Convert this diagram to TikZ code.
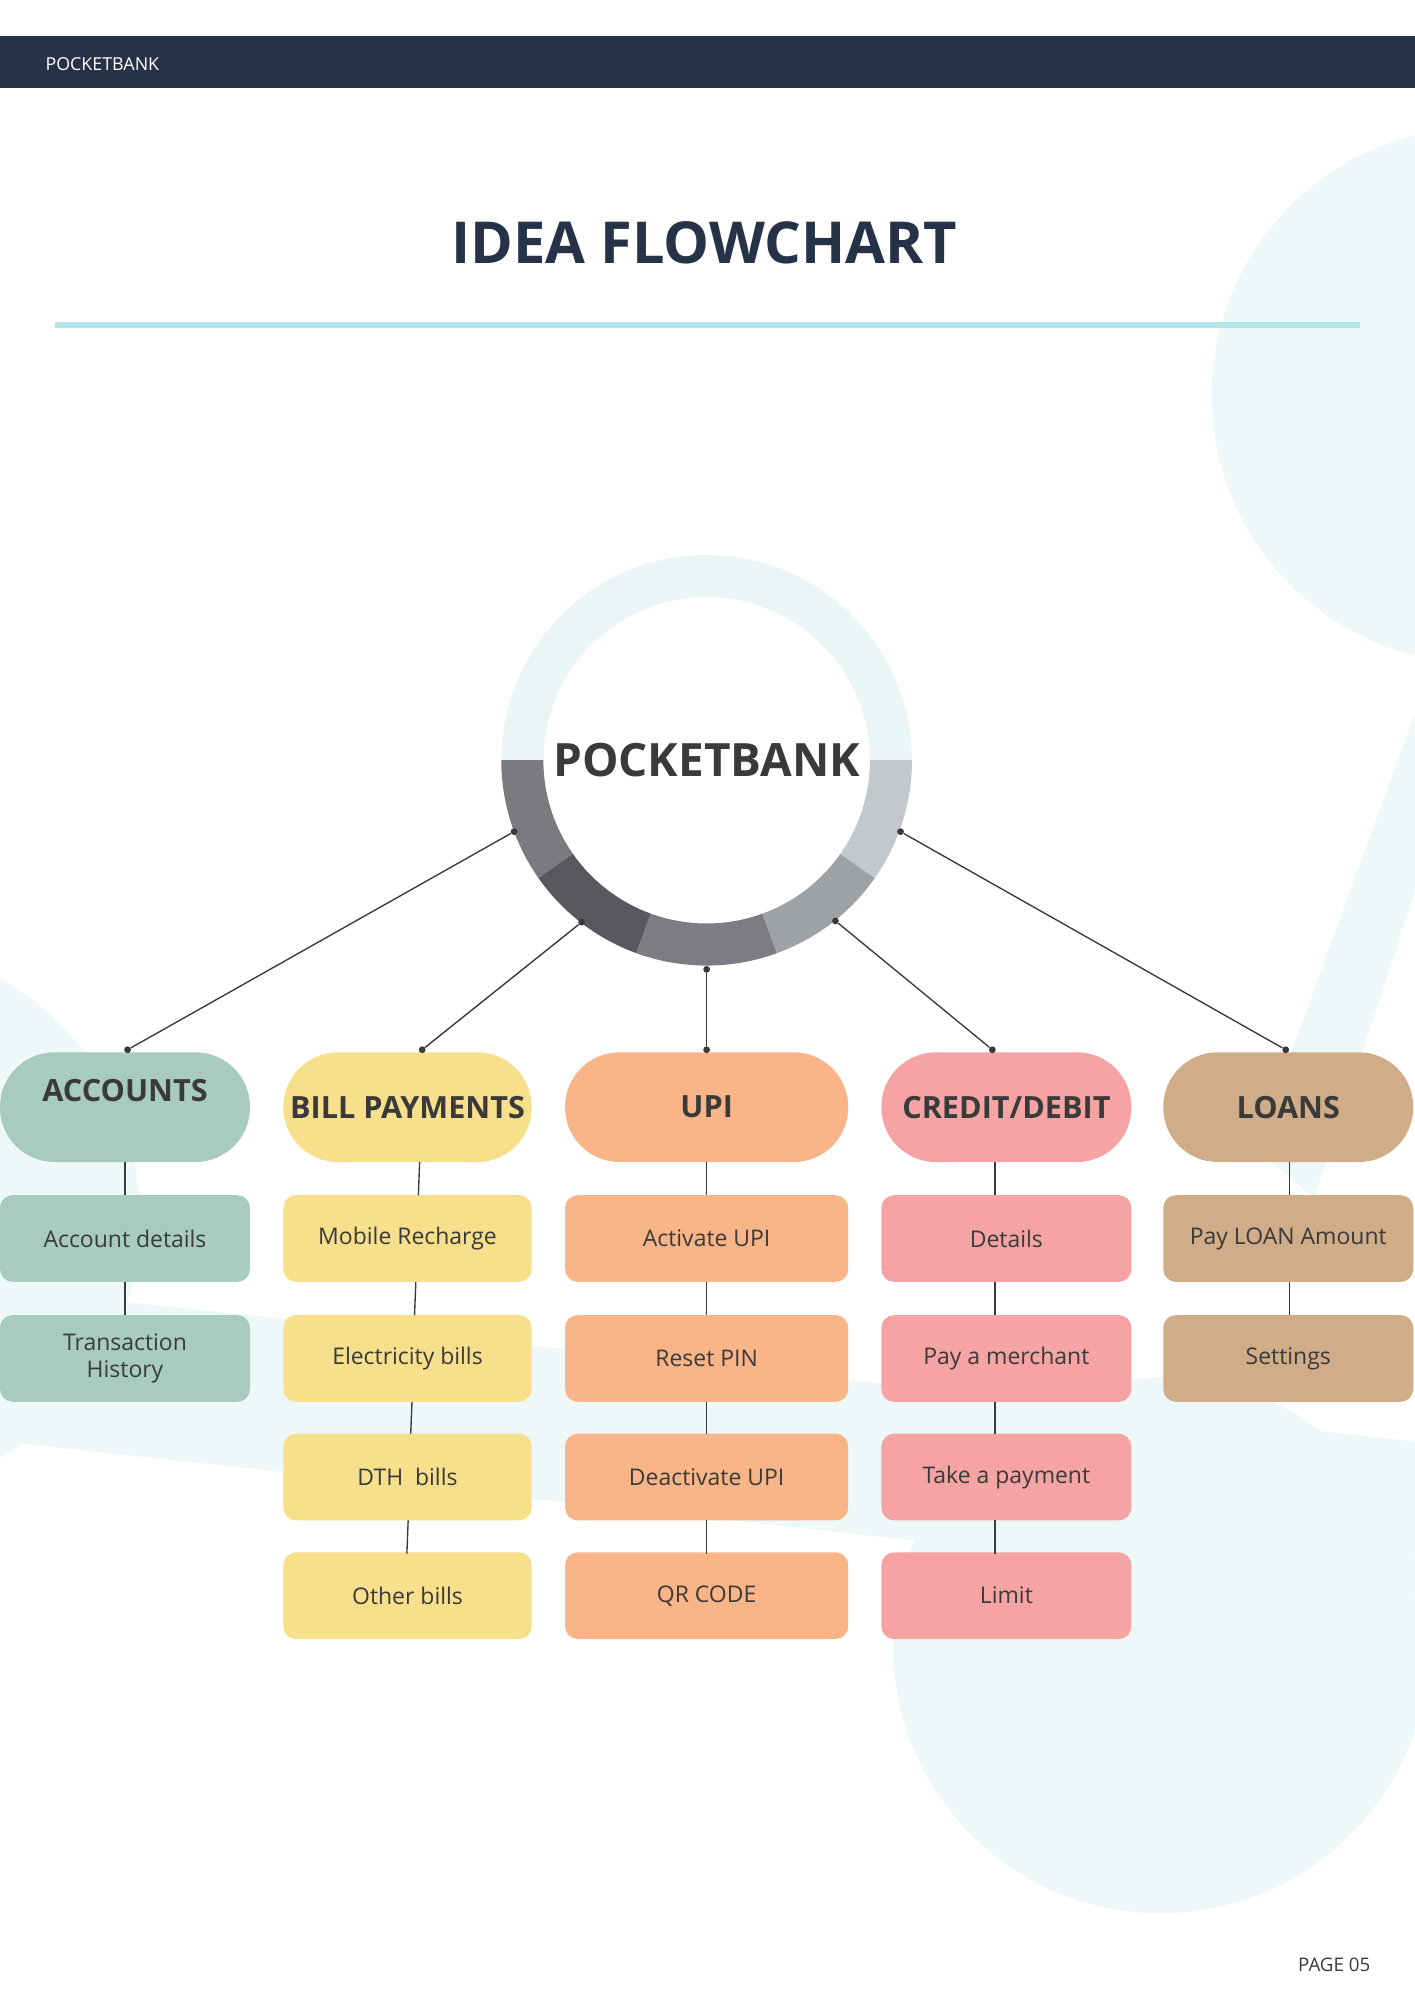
\documentclass[tikz,border=0pt]{standalone}
\usepackage{fontspec}
\setmainfont{Open Sans}
\definecolor{navy}{HTML}{253247}
\definecolor{bgc}{HTML}{EEF8F8}
\definecolor{acc}{HTML}{A8CBBF}
\definecolor{bill}{HTML}{F7DF8C}
\definecolor{upi}{HTML}{F9B487}
\definecolor{cred}{HTML}{F5A3A3}
\definecolor{loan}{HTML}{D0AC88}
\definecolor{txt}{HTML}{3A3A3A}
\definecolor{rule}{HTML}{B3E6E6}
\definecolor{r0}{HTML}{EAF5F6}
\definecolor{r1}{HTML}{7A7A7F}
\definecolor{r2}{HTML}{58585E}
\definecolor{r3}{HTML}{7C7C82}
\definecolor{r4}{HTML}{9EA1A6}
\definecolor{r5}{HTML}{C3C8CC}
\begin{document}
\begin{tikzpicture}[x=0.75pt,y=-0.75pt,
  cat/.style={rounded corners=32pt,minimum height=64.5pt,inner sep=0pt,font=\fontsize{18}{20}\selectfont\bfseries,text=txt},
  sub/.style={rounded corners=7.5pt,minimum height=51pt,inner sep=0pt,font=\fontsize{13.5}{16}\selectfont,text=txt,align=center},
  ln/.style={draw=txt,line width=0.8pt},
  dot/.style={circle,fill=txt,inner sep=0pt,minimum size=4pt}]
\useasboundingbox (0,0) rectangle (1109,1568);
\fill[white] (0,0) rectangle (1109,1568);
% background
\begin{scope}
\clip (0,0) rectangle (1109,1568);
\fill[bgc] (1160,310) circle[radius=210];
\fill[bgc] (910,1290) circle[radius=210];
\fill[bgc] (-105,955) circle[radius=215];
\fill[bgc] (1109,560) -- (1109,700) -- (1030,940) -- (985,900) -- cycle;
\fill[bgc] (0,1010) -- (1109,1130) -- (1109,1250) -- (0,1130) -- cycle;
\end{scope}
% header
\fill[navy] (0,28) rectangle (1109,69);
\node[anchor=west,text=white,font=\fontsize{10.5}{12}\selectfont] (hdr) at (31,50) {POCKETBANK};
\node[text=navy,font=\fontsize{34}{40}\selectfont\bfseries] (title) at (552,190) {IDEA FLOWCHART};
\draw[rule,line width=3.5pt] (43,255) -- (1066,255);
% ring
\newcommand\seg[3]{\fill[#3] plot[domain=#1:#2,samples=40] ({554+161*cos(\x)},{596+161*sin(\x)}) -- plot[domain=#2:#1,samples=40] ({554+128*cos(\x)},{596+128*sin(\x)}) -- cycle;}
\seg{180}{360}{r0}
\seg{145}{180}{r1}
\seg{110}{145}{r2}
\seg{70}{110}{r3}
\seg{35}{70}{r4}
\seg{0}{35}{r5}
\node[text=txt,font=\fontsize{27}{30}\selectfont\bfseries] (pb) at (554,596) {POCKETBANK};
% dots
\node[dot] (d1) at (403,652) {};
\node[dot] (d2) at (456,723) {};
\node[dot] (d3) at (554,760) {};
\node[dot] (d4) at (655,722) {};
\node[dot] (d5) at (706,652) {};
% categories
\node[cat,fill=acc,minimum width=147pt] (acc) at (98,868) {};
\node[text=txt,font=\fontsize{18}{20}\selectfont\bfseries] (acct) at (98,855) {ACCOUNTS};
\node[cat,fill=bill,minimum width=146pt] (bill) at (319.5,868) {BILL PAYMENTS};
\node[cat,fill=upi,minimum width=166.5pt] (upi) at (554,868) {UPI};
\node[cat,fill=cred,minimum width=147pt] (cred) at (789,868) {CREDIT/DEBIT};
\node[cat,fill=loan,minimum width=147pt] (loan) at (1010,868) {LOANS};
\node[dot] (t1) at (100,823) {};
\node[dot] (t2) at (331,823) {};
\node[dot] (t3) at (554,823) {};
\node[dot] (t4) at (778,823) {};
\node[dot] (t5) at (1008,823) {};
\draw[ln] (d1) -- (t1); \draw[ln] (d2) -- (t2); \draw[ln] (d3) -- (t3);
\draw[ln] (d4) -- (t4); \draw[ln] (d5) -- (t5);
% sub boxes
\newcommand\rowy[1]{\ifcase#1\or971\or1065\or1158\or1251\fi}
\foreach \n/\x/\w/\c/\r/\t in {a1/98/147/acc/1/Account details, a2/98/147/acc/2/{Transaction\\History},
  b1/319.5/146/bill/1/Mobile Recharge, b2/319.5/146/bill/2/Electricity bills, b3/319.5/146/bill/3/{DTH\ \ bills}, b4/319.5/146/bill/4/Other bills,
  u1/554/166.5/upi/1/Activate UPI, u2/554/166.5/upi/2/Reset PIN, u3/554/166.5/upi/3/Deactivate UPI, u4/554/166.5/upi/4/QR CODE,
  c1/789/147/cred/1/Details, c2/789/147/cred/2/Pay a merchant, c3/789/147/cred/3/Take a payment, c4/789/147/cred/4/Limit,
  l1/1010/147/loan/1/Pay LOAN Amount, l2/1010/147/loan/2/Settings}
  {\node[sub,fill=\c,minimum width=\w pt] (\n) at (\x,\rowy{\r}) {\t};}
\draw[ln] (98,911) -- (98,937); \draw[ln] (98,1005) -- (98,1031);
\draw[ln] (329,911) -- (328,937); \draw[ln] (326,1005) -- (325,1031);
\draw[ln] (323,1099) -- (322,1124); \draw[ln] (320,1192) -- (319,1218);
\foreach \ya/\yb in {911/937,1005/1031,1099/1124,1192/1218}{
  \draw[ln] (554,\ya) -- (554,\yb); \draw[ln] (780,\ya) -- (780,\yb);}
\draw[ln] (1011,911) -- (1011,937); \draw[ln] (1011,1005) -- (1011,1031);
\node[text=txt,font=\fontsize{11}{12}\selectfont] (page) at (1046,1540) {PAGE 05};
\end{tikzpicture}
\end{document}
